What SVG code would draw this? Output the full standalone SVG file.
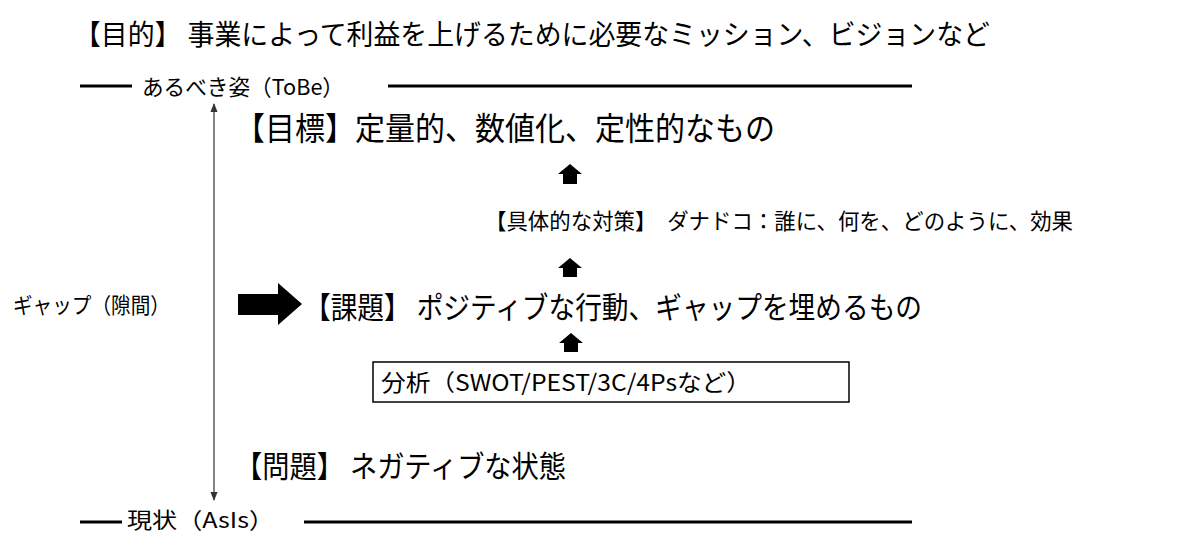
<svg xmlns="http://www.w3.org/2000/svg" width="1200" height="553" viewBox="0 0 1200 553">
<style>
text{font-family:"Noto Sans CJK JP","Noto Sans",sans-serif;fill:#000}
.big{font-size:30px}
.mid{font-size:22px}
.rule{stroke:#000;stroke-width:3}
.blk{fill:#000}
</style>
<defs>
<marker id="ah" viewBox="0 0 10 10" refX="9" refY="5" markerWidth="9" markerHeight="9" markerUnits="userSpaceOnUse" orient="auto">
<path d="M0,1 L10,5 L0,9 z" fill="#333"/>
</marker>
</defs>
<rect width="1200" height="553" fill="#fff"/>
<g id="purpose">
<text x="74" y="45" font-size="28" textLength="916" lengthAdjust="spacingAndGlyphs">【目的】 事業によって利益を上げるために必要なミッション、ビジョンなど</text>
</g>
<g id="tobe">
<line class="rule" x1="80" y1="86" x2="132" y2="86"/>
<text class="mid" x="142" y="95" textLength="202" lengthAdjust="spacingAndGlyphs">あるべき姿（ToBe）</text>
<line class="rule" x1="388" y1="86" x2="912" y2="86"/>
</g>
<g id="goal">
<text x="235" y="140" font-size="32" textLength="540" lengthAdjust="spacingAndGlyphs">【目標】定量的、数値化、定性的なもの</text>
</g>
<g id="measures">
<text class="mid" x="485" y="229" textLength="588" lengthAdjust="spacingAndGlyphs">【具体的な対策】　ダナドコ：誰に、何を、どのように、効果</text>
</g>
<g id="gap">
<text class="mid" x="13" y="313" textLength="157" lengthAdjust="spacingAndGlyphs">ギャップ（隙間）</text>
</g>
<g id="task">
<text class="big" x="304" y="318" textLength="618" lengthAdjust="spacingAndGlyphs">【課題】 ポジティブな行動、ギャップを埋めるもの</text>
</g>
<g id="analysis">
<rect x="373" y="362" width="476" height="40" fill="#fff" stroke="#000" stroke-width="1.5"/>
<text x="381" y="391" font-size="23" textLength="370" lengthAdjust="spacingAndGlyphs">分析（SWOT/PEST/3C/4Psなど）</text>
</g>
<g id="problem">
<text class="big" x="235" y="477" textLength="331" lengthAdjust="spacingAndGlyphs">【問題】 ネガティブな状態</text>
</g>
<g id="asis">
<line class="rule" x1="80" y1="522" x2="122" y2="522"/>
<text class="mid" x="127" y="528" textLength="147" lengthAdjust="spacingAndGlyphs">現状（AsIs）</text>
<line class="rule" x1="304" y1="522" x2="912" y2="522"/>
</g>
<g id="connectors">
<line x1="214" y1="300" x2="214" y2="104" stroke="#333" stroke-width="1.2" marker-end="url(#ah)"/>
<line x1="214" y1="300" x2="214" y2="500" stroke="#333" stroke-width="1.2" marker-end="url(#ah)"/>
<path class="blk" d="M238,294 L278,294 L278,283 L302,304 L278,325 L278,315 L238,315 z"/>
<path class="blk" d="M570,164 L582,174 L577,174 L577,184 L563,184 L563,174 L558,174 z"/>
<path class="blk" d="M570,258 L582,268 L577,268 L577,277 L563,277 L563,268 L558,268 z"/>
<path class="blk" d="M571,333 L583,343 L578,343 L578,352 L564,352 L564,343 L559,343 z"/>
</g>
</svg>
